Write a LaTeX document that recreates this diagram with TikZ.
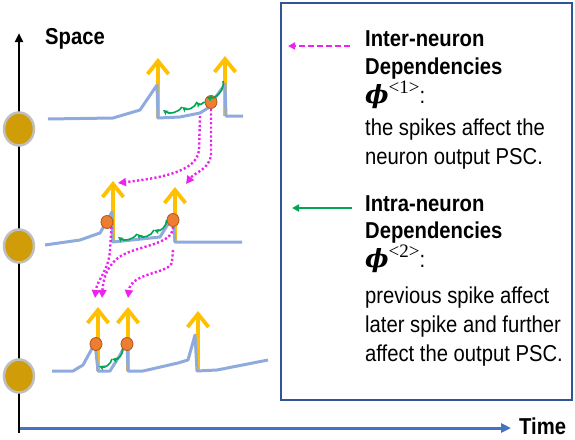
\documentclass[tikz,border=0pt]{standalone}
\usepackage{fontspec}
\setmainfont{Liberation Sans}[FakeStretch=0.88]
\newfontfamily\phifont{DejaVu Serif}
\newfontfamily\supfont{Liberation Serif}
\usetikzlibrary{arrows.meta,shapes.geometric}
\definecolor{traceC}{HTML}{8FAADC}
\definecolor{spikeC}{HTML}{FFC000}
\definecolor{dotC}{HTML}{ED7D31}
\definecolor{dotE}{HTML}{B0561A}
\definecolor{grnC}{HTML}{00A651}
\definecolor{magC}{HTML}{EE22EE}
\definecolor{goldC}{HTML}{D09C08}
\definecolor{ringC}{HTML}{BFBFBF}
\definecolor{boxC}{HTML}{2F5597}
\definecolor{axC}{HTML}{4472C4}
\tikzset{
  trace/.style={draw=traceC, line width=3pt, line join=round},
  spk/.style={draw=spikeC, line width=3.8pt, -{Straight Barb[length=13pt,width=21pt,line width=3.8pt]}},
  odot/.style={ellipse, draw=dotE, fill=dotC, line width=0.8pt, minimum width=12pt, minimum height=13pt, inner sep=0pt},
  neuron/.style={ellipse, draw=ringC, fill=goldC, line width=2.5pt, minimum width=30pt, minimum height=33pt, inner sep=0pt},
  garr/.style={draw=grnC, line width=1.6pt, -{Stealth[length=5.5pt,width=5.5pt]}},
  parr/.style={draw=magC, line width=2.4pt, dash pattern=on 2.2pt off 2.2pt, -{Triangle[length=8pt,width=8pt]}},
  txt/.style={anchor=base west, inner sep=0pt, font=\fontsize{23}{28}\selectfont},
  btxt/.style={txt, font=\fontsize{23}{28}\selectfont\bfseries},
}
\newcommand{\phisym}[1]{{\phifont\fontsize{25}{30}\selectfont\bfseries\itshape ϕ}\raisebox{10pt}{\supfont\fontsize{19}{22}\selectfont <#1>}:}
\begin{document}
\begin{tikzpicture}[x=1pt,y=-1pt]
\useasboundingbox (0,0) rectangle (575,439);
% legend box
\draw[boxC, line width=1.2pt] (281,3) rectangle (572,400);
% axes
\coordinate (O) at (19,433);
\coordinate (Ytop) at (19,33);
\coordinate (X0) at (20,428);
\coordinate (Xend) at (511,428);
\draw[black, line width=2.5pt, -{Triangle[length=9pt,width=8pt]}] (O) -- (Ytop);
\draw[axC, line width=3pt, -{Triangle[length=10pt,width=9pt]}] (X0) -- (Xend);
\node[btxt] (space) at (45,44) {Space};
\node[btxt] (time) at (519,434) {Time};
% neurons
\node[neuron] (n1) at (19,129) {};
\node[neuron] (n2) at (19,246) {};
\node[neuron] (n3) at (19,376) {};
% spike arrows (yellow)
\coordinate (bT1) at (158,118); \coordinate (sT1) at (158,58);
\coordinate (bT2) at (225,116); \coordinate (sT2) at (225,56);
\coordinate (bM1) at (113,242); \coordinate (sM1) at (113,181);
\coordinate (bM2) at (175,242); \coordinate (sM2) at (175,187);
\coordinate (bB1) at (98,371); \coordinate (sB1) at (98,307);
\coordinate (bB2) at (128,371); \coordinate (sB2) at (128,307);
\coordinate (bB3) at (198,370); \coordinate (sB3) at (198,311);
\foreach \b/\s in {bT1/sT1,bT2/sT2,bM1/sM1,bM2/sM2,bB1/sB1,bB2/sB2,bB3/sB3}
  \draw[spk] (\b) -- (\s);
% traces
\draw[trace] (48,119) -- (113,118) -- (140,110) -- (157,85) -- (158,118) -- (180,117) -- (200,113) -- (208,108) -- (225,84) -- (226,116) -- (243,116);
\draw[trace] (45,245) -- (80,240) -- (100,233) -- (112,212) -- (113,242) -- (160,237) -- (173,216) -- (175,242) -- (242,242);
\draw[trace] (52,371) -- (73,371) -- (83,365) -- (95,343) -- (98,371) -- (110,371) -- (120,355) -- (127,342) -- (128,371) -- (143,371) -- (178,363) -- (188,360) -- (195,335) -- (197,371) -- (217,370) -- (268,360);
% orange dots
\node[odot] (dT) at (211,102) {};
\node[odot] (dM1) at (107,222) {};
\node[odot] (dM2) at (173,220) {};
\node[odot] (dB1) at (96,344) {};
\node[odot] (dB2) at (127,344) {};
% green intra-neuron arrows
\coordinate (gT0) at (223,81);
\coordinate (gT2) at (197,102);
\coordinate (gT3) at (182,107);
\coordinate (gT4) at (163,110);
\draw[garr] (gT0) to[bend left=60] (dT.north west);
\draw[garr] (dT.west) to[bend left=55] (gT2);
\draw[garr] (gT2) to[bend left=55] (gT3);
\draw[garr] (gT3) to[bend left=45] (gT4);
\coordinate (gM2) at (154,230);
\coordinate (gM3) at (137,234);
\coordinate (gM4) at (118,237);
\draw[garr] (dM2.west) to[bend left=55] (gM2);
\draw[garr] (gM2) to[bend left=55] (gM3);
\draw[garr] (gM3) to[bend left=45] (gM4);
\coordinate (gB2) at (112,359);
\coordinate (gB3) at (99,366);
\draw[garr] (dB2.south west) to[bend left=55] (gB2);
\draw[garr] (gB2) to[bend left=50] (gB3);
% pink inter-neuron arrows
\coordinate (pT1) at (118,183);
\coordinate (pT2) at (186,184);
\draw[parr] (200,116) -- (199,150) .. controls (197,172) and (160,178) .. (pT1);
\draw[parr] (dT.south) -- (211,155) .. controls (209,170) and (195,172) .. (pT2);
\coordinate (pM1) at (95,298);
\coordinate (pM2) at (102,298);
\coordinate (pM3) at (128,298);
\draw[parr] (dM1.south east) -- (110,250) .. controls (109,270) and (97,280) .. (pM1);
\draw[parr] (dM2.south) .. controls (173,246) and (135,245) .. (118,258) .. controls (105,268) and (103,282) .. (pM2);
\draw[parr] (173,250) -- (172,262) .. controls (170,274) and (131,272) .. (pM3);
% legend
\coordinate (lp1) at (350,46); \coordinate (lp0) at (288,46);
\draw[draw=magC, line width=2pt, dash pattern=on 6pt off 3pt, -{Triangle[length=7pt,width=7pt]}] (lp1) -- (lp0);
\coordinate (lg1) at (352,208); \coordinate (lg0) at (292,208);
\draw[draw=grnC, line width=1.8pt, -{Triangle[length=7pt,width=7pt]}] (lg1) -- (lg0);
\node[btxt] (h1) at (365,46) {Inter-neuron};
\node[btxt] (h2) at (365,74) {Dependencies};
\node[txt] (f1) at (365,103) {\phisym{1}};
\node[txt] (t1) at (365,135) {the spikes affect the};
\node[txt] (t2) at (365,164) {neuron output PSC.};
\node[btxt] (h3) at (365,211) {Intra-neuron};
\node[btxt] (h4) at (365,238) {Dependencies};
\node[txt] (f2) at (365,267) {\phisym{2}};
\node[txt] (t3) at (365,303) {previous spike affect};
\node[txt] (t4) at (365,332) {later spike and further};
\node[txt] (t5) at (365,361) {affect the output PSC.};
\end{tikzpicture}
\end{document}
